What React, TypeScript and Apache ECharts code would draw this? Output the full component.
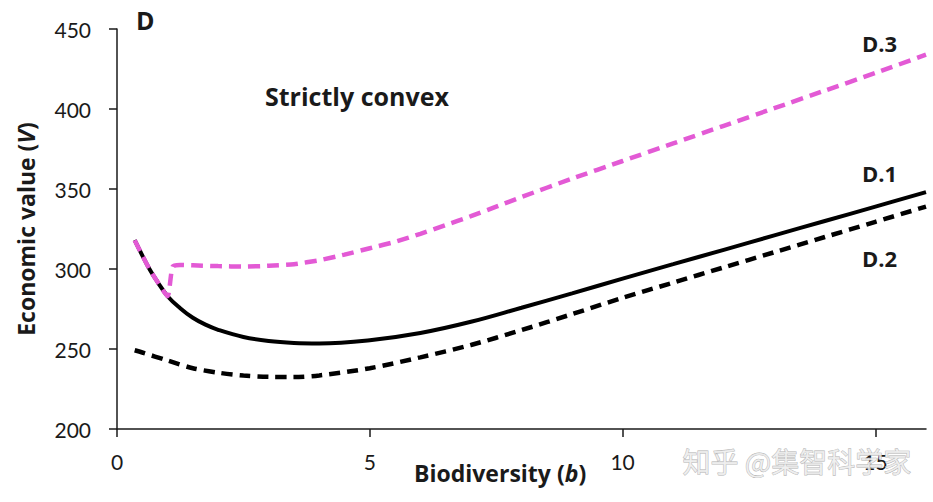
import React, { useEffect, useRef } from "react";
import * as echarts from "echarts";

// Biodiversity (b) sample positions and economic values (V)
const d1X = [0.35, 0.5, 0.65, 0.8, 1.0, 1.25, 1.5, 1.75, 2, 2.5, 3, 3.5, 4, 5, 6, 7, 8, 9, 10, 11, 12, 13, 14, 15, 16];
const d1Y = [318, 308.5, 299.5, 292, 283, 275.5, 269.5, 265.2, 262, 257.5, 255, 253.8, 253.5, 255.5, 260, 267, 275.8, 284.8, 294, 303, 312, 321, 330, 339, 348];

const d2X = [0.35, 0.5, 1.0, 1.5, 2, 2.5, 3, 3.5, 4, 5, 6, 7, 8, 9, 10, 11, 12, 13, 14, 15, 16];
const d2Y = [249.2, 247.8, 242.8, 238, 235.2, 233.4, 232.6, 232.5, 233.5, 238, 244.8, 252.5, 261.8, 271.8, 282, 291.5, 301, 310.5, 320, 329.5, 339];

const d3X = [0.35, 0.5, 0.65, 0.8, 1.0, 1.1, 1.25, 1.5, 2, 2.5, 3, 3.5, 4, 4.5, 5, 5.5, 6, 6.5, 7, 7.5, 8, 9, 10, 11, 12, 13, 14, 15, 16];
const d3Y = [318, 308.5, 299.5, 292, 283, 301.5, 302.5, 302.3, 301.8, 301.5, 302, 303, 305.5, 309, 313, 317, 322, 327.5, 333, 339, 345, 356.5, 367.5, 378.5, 389.5, 400.5, 411.5, 422.5, 434];

const xTicks = [0, 5, 10, 15];
const yMin = 200;
const yMax = 450;
const yStep = 50;
const xMin = 0;
const xMax = 16;

const seriesLabels = ["D.1", "D.2", "D.3"];

const TICK_FONT = "Lato, 'Open Sans', sans-serif";
const BOLD_FONT = "'Open Sans', Lato, sans-serif";

function pairs(xs: number[], ys: number[]) {
  return xs.map((x, i) => [x, ys[i]]);
}

export default function App() {
  const ref = useRef<HTMLDivElement>(null);
  useEffect(() => {
    if (!ref.current) return;
    const chart = echarts.init(ref.current, null, { renderer: "svg" });
    chart.setOption({
      animation: false,
      backgroundColor: "#ffffff",
      grid: { left: 117, right: 7, top: 29, bottom: 73 },
      xAxis: {
        type: "value",
        min: xMin,
        max: xMax,
        interval: 5,
        axisLine: { show: true, lineStyle: { color: "#1a1a1a", width: 1.5 } },
        axisTick: { show: true, length: 8, customValues: xTicks, lineStyle: { color: "#1a1a1a", width: 1.5 } },
        axisLabel: {
          customValues: xTicks,
          margin: 22,
          fontSize: 21,
          color: "#1a1a1a",
          fontFamily: TICK_FONT,
        },
        splitLine: { show: false },
      },
      yAxis: {
        type: "value",
        min: yMin,
        max: yMax,
        interval: yStep,
        name: "Economic value ({i|V})",
        nameLocation: "middle",
        nameGap: 80,
        nameTextStyle: {
          fontSize: 23,
          fontWeight: "bold",
          color: "#1a1a1a",
          fontFamily: BOLD_FONT,
          rich: { i: { fontSize: 23, fontWeight: "bold", fontStyle: "italic", color: "#1a1a1a", fontFamily: BOLD_FONT } },
        },
        axisLine: { show: true, lineStyle: { color: "#1a1a1a", width: 1.5 } },
        axisTick: { show: true, length: 8, lineStyle: { color: "#1a1a1a", width: 1.5 } },
        axisLabel: { margin: 26, fontSize: 21, color: "#1a1a1a", fontFamily: TICK_FONT },
        splitLine: { show: false },
      },
      series: [
        {
          name: seriesLabels[0],
          type: "line",
          data: pairs(d1X, d1Y),
          showSymbol: false,
          smooth: 0.4,
          lineStyle: { color: "#000000", width: 4 },
        },
        {
          name: seriesLabels[1],
          type: "line",
          data: pairs(d2X, d2Y),
          showSymbol: false,
          smooth: 0.3,
          lineStyle: { color: "#000000", width: 4.5, type: [11, 7] },
        },
        {
          name: seriesLabels[2],
          type: "line",
          data: pairs(d3X, d3Y),
          showSymbol: false,
          smooth: 0.2,
          lineStyle: { color: "#e35ad5", width: 4.5, type: [12, 7] },
        },
      ],
      graphic: [
        { type: "text", left: 136, top: 7, style: { text: "D", font: `bold 25px ${BOLD_FONT}`, fill: "#1a1a1a" } },
        { type: "text", left: 265, top: 83, style: { text: "Strictly convex", font: `bold 25px ${BOLD_FONT}`, fill: "#1a1a1a" } },
        { type: "text", left: 862, top: 32, style: { text: seriesLabels[2], font: `bold 22px ${BOLD_FONT}`, fill: "#1a1a1a" } },
        { type: "text", left: 862, top: 162, style: { text: seriesLabels[0], font: `bold 22px ${BOLD_FONT}`, fill: "#1a1a1a" } },
        { type: "text", left: 862, top: 247, style: { text: seriesLabels[1], font: `bold 22px ${BOLD_FONT}`, fill: "#1a1a1a" } },
        {
          type: "text",
          left: 414,
          top: 461,
          style: {
            text: "Biodiversity ({i|b})",
            font: `bold 23px ${BOLD_FONT}`,
            fill: "#1a1a1a",
            rich: { i: { font: `italic bold 23px ${BOLD_FONT}`, fill: "#1a1a1a" } },
          },
        },
        {
          type: "text",
          left: 682,
          top: 447,
          z: 100,
          style: {
            text: "知乎 @集智科学家",
            font: `28px 'Noto Sans CJK SC', sans-serif`,
            fill: "rgba(238,238,238,0.85)",
            stroke: "#b0b0b0",
            lineWidth: 0.8,
          },
        },
      ],
    });
    return () => chart.dispose();
  }, []);
  return (
    <div
      ref={ref}
      style={{ position: "fixed", left: 0, top: 0, width: 933, height: 502 }}
    />
  );
}
